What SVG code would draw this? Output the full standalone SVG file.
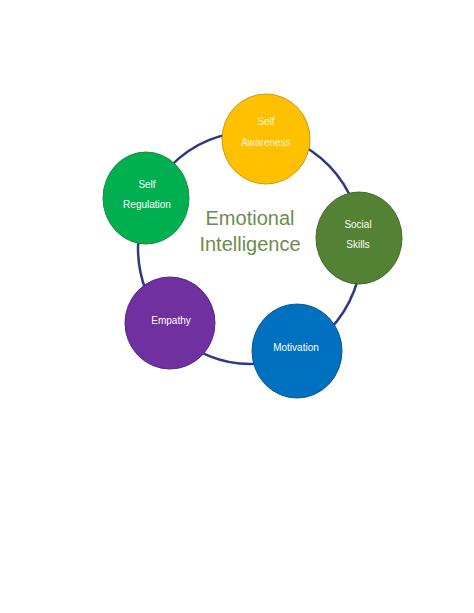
<svg xmlns="http://www.w3.org/2000/svg" width="474" height="613" viewBox="0 0 474 613">
<style>
.lbl{font-family:"Liberation Sans",Arial,sans-serif;font-size:10px;text-anchor:middle;fill:#FFFFFF}
.title{font-family:"Liberation Sans",Arial,sans-serif;font-size:20px;text-anchor:middle;fill:#6E8B4E}
.node{stroke-width:1}
</style>
<rect width="474" height="613" fill="#FFFFFF"/>
<g id="connectors">
<ellipse cx="250" cy="248" rx="112" ry="116" fill="none" stroke="#2B3A82" stroke-width="2.5"/>
</g>
<g id="center">
<text class="title" x="250" y="225">Emotional</text>
<text class="title" x="250" y="251">Intelligence</text>
</g>
<g id="self-awareness">
<ellipse class="node" cx="266" cy="139" rx="44" ry="45" fill="#FFC000" stroke="#C99A10"/>
<text class="lbl" x="266" y="125" style="fill:#FFF4D6">Self</text>
<text class="lbl" x="266" y="146" style="fill:#FFF4D6">Awareness</text>
</g>
<g id="self-regulation">
<ellipse class="node" cx="146" cy="198" rx="43" ry="46" fill="#00B050" stroke="#1E8A44"/>
<text class="lbl" x="147" y="188">Self</text>
<text class="lbl" x="147" y="208">Regulation</text>
</g>
<g id="social-skills">
<ellipse class="node" cx="359" cy="238" rx="43" ry="46" fill="#548235" stroke="#44692C"/>
<text class="lbl" x="358" y="228">Social</text>
<text class="lbl" x="358" y="248">Skills</text>
</g>
<g id="empathy">
<ellipse class="node" cx="170" cy="323" rx="45" ry="46" fill="#7030A0" stroke="#5A2682"/>
<text class="lbl" x="171" y="324">Empathy</text>
</g>
<g id="motivation">
<ellipse class="node" cx="297" cy="351" rx="45" ry="47" fill="#0070C0" stroke="#0B5A98"/>
<text class="lbl" x="296" y="351">Motivation</text>
</g>
</svg>
